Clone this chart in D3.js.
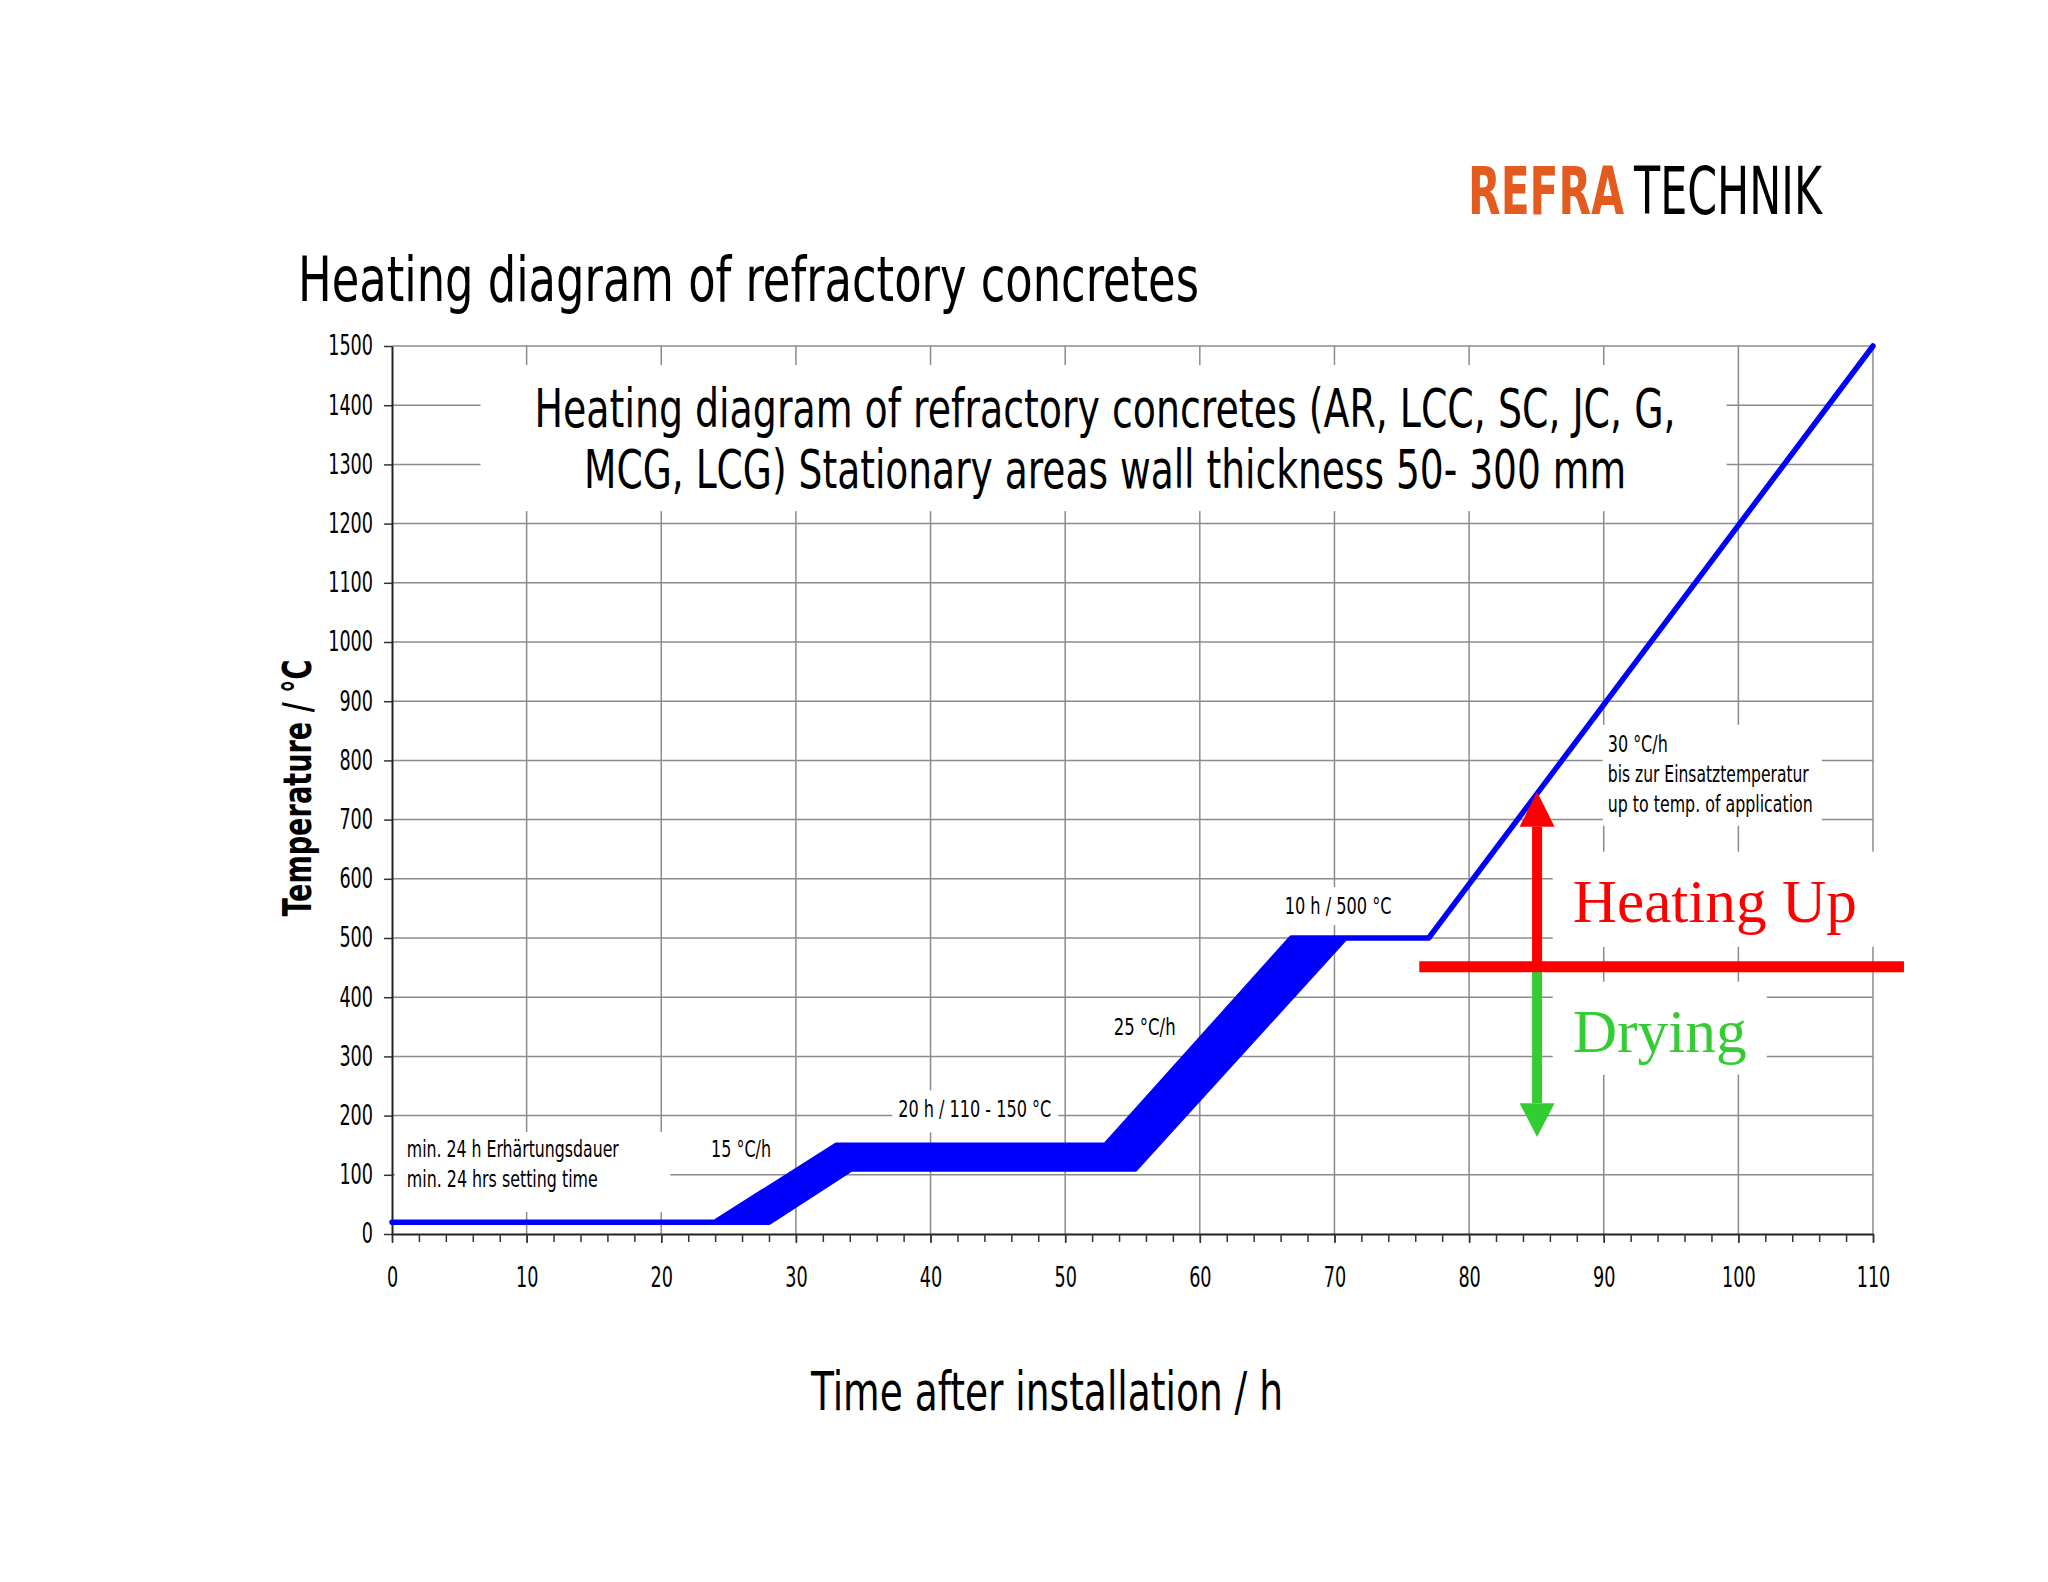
<!DOCTYPE html>
<html>
<head>
<meta charset="utf-8">
<script src="https://cdn.jsdelivr.net/npm/d3@7"></script>
<style>
  body { margin: 0; background: #fff; }
  text { font-family: "Liberation Sans Narrow", "DejaVu Sans Condensed", sans-serif; fill: #000; }
  .serif { font-family: "Liberation Serif", "DejaVu Serif", serif; }
</style>
</head>
<body>
<div id="chart"></div>
<script>
// ticks
var hourTicks = d3.range(0, 111, 10);
var hourMinorTicks = d3.range(0, 111, 2);
var tempTicks = d3.range(0, 1501, 100);

// heating band: fastest (upper) and slowest (lower) schedule
var upperHours = [0, 24, 33, 53, 66.8, 77, 110];
var upperTemps = [20, 20, 150, 150, 500, 500, 1500];
var lowerHours = [0, 28, 34.1, 55.2, 70.8, 77, 110];
var lowerTemps = [20, 20, 110, 110, 500, 500, 1500];

// phase marker (drying / heating up)
var dividerTemp = 451.5, dividerFrom = 76.3, dividerTo = 112.3;
var arrowHour = 85.05;
var heatTipTemp = 747, heatHeadTemp = 688;
var dryTipTemp = 164, dryHeadTemp = 221;

var W = 2048, H = 1582;
var margin = {top: 346, right: 175, bottom: 348, left: 392};
var width = W - margin.left - margin.right,
    height = H - margin.top - margin.bottom;

var x = d3.scaleLinear().domain([0, 110]).range([margin.left, margin.left + width]);
var y = d3.scaleLinear().domain([0, 1500]).range([margin.top + height, margin.top]);

var svg = d3.select("#chart").append("svg")
  .attr("width", W)
  .attr("height", H);
svg.append("rect").attr("width", W).attr("height", H).attr("fill", "#fff");

// grid
svg.append("g").selectAll("line")
  .data(tempTicks.slice(1))
  .enter().append("line")
  .attr("x1", x(0)).attr("x2", x(110))
  .attr("y1", function (d) { return y(d); })
  .attr("y2", function (d) { return y(d); })
  .attr("stroke", "#8c8c8c").attr("stroke-width", 1.5);
svg.append("g").selectAll("line")
  .data(hourTicks.slice(1))
  .enter().append("line")
  .attr("x1", function (d) { return x(d); })
  .attr("x2", function (d) { return x(d); })
  .attr("y1", y(0)).attr("y2", y(1500))
  .attr("stroke", "#8c8c8c").attr("stroke-width", 1.5);

// label helper: white box behind text, pads = [top, right, bottom, left]
function addLabel(lines, h, t, opt) {
  var g = svg.append("g");
  var box = g.append("rect").attr("fill", "#fff");
  var txt = g.append("text")
    .attr("x", x(h)).attr("y", y(t))
    .attr("class", opt.cls || null)
    .style("font-size", opt.size + "px")
    .style("fill", opt.color || "#000")
    .attr("text-anchor", opt.anchor || "start");
  lines.forEach(function (s, i) {
    var ts = txt.append("tspan")
      .attr("x", x(h))
      .attr("dy", i === 0 ? 0 : opt.lh)
      .text(s);
    if (opt.widths && opt.widths[i]) {
      ts.attr("textLength", opt.widths[i]).attr("lengthAdjust", "spacingAndGlyphs");
    }
  });
  var bb = txt.node().getBBox();
  var p = opt.pad || [5, 6, 5, 6];
  box.attr("x", bb.x - p[3]).attr("y", bb.y - p[0])
    .attr("width", bb.width + p[1] + p[3])
    .attr("height", bb.height + p[0] + p[2]);
  return g;
}

// annotations (boxes sit over the grid, under the curve)
addLabel(["Heating diagram of refractory concretes (AR, LCC, SC, JC, G,",
          "MCG, LCG) Stationary areas wall thickness 50- 300 mm"], 52.96, 1363,
  {size: 54, lh: 61, anchor: "middle", widths: [1141, 1042], pad: [12, 51, 10, 54]});
addLabel(["min. 24 h Erhärtungsdauer", "min. 24 hrs setting time"], 1.1, 130,
  {size: 23, lh: 30, widths: [212, 191], pad: [4, 51, 20, 12]});
addLabel(["15 °C/h"], 23.7, 129.6, {size: 23, widths: [60], pad: [6, 8, 6, 8]});
addLabel(["20 h / 110 - 150 °C"], 37.6, 197, {size: 23, widths: [153], pad: [6, 7, 10, 6]});
addLabel(["25 °C/h"], 53.6, 336, {size: 23, widths: [62], pad: [6, 8, 6, 8]});
addLabel(["10 h / 500 °C"], 66.3, 540.5, {size: 23, widths: [107], pad: [6, 6, 6, 6]});
addLabel(["30 °C/h", "bis zur Einsatztemperatur", "up to temp. of application"], 90.3, 814.7,
  {size: 23, lh: 30, widths: [60, 201, 205], pad: [6, 9, 9, 5]});
addLabel(["Heating Up"], 87.7, 527.5,
  {size: 61, cls: "serif", color: "#ff0000", widths: [284], pad: [16, 28, 12, 20]});
addLabel(["Drying"], 87.7, 308,
  {size: 61, cls: "serif", color: "#33cc33", widths: [174], pad: [16, 20, 10, 20]});

// axes
var xAxis = svg.append("g")
  .attr("transform", "translate(0," + y(0) + ")")
  .call(d3.axisBottom(x).tickValues(hourTicks).tickFormat(d3.format("d"))
    .tickSize(9).tickSizeOuter(0).tickPadding(24));
svg.append("g")
  .attr("transform", "translate(0," + y(0) + ")")
  .call(d3.axisBottom(x).tickValues(hourMinorTicks).tickSize(8).tickSizeOuter(0).tickFormat(""))
  .select(".domain").remove();
var yAxis = svg.append("g")
  .attr("transform", "translate(" + x(0) + ",0)")
  .call(d3.axisLeft(y).tickValues(tempTicks).tickFormat(d3.format("d"))
    .tickSize(8).tickSizeOuter(0).tickPadding(11));

svg.selectAll(".tick line").attr("stroke", "#333").attr("stroke-width", 1.5);
svg.selectAll(".domain").attr("stroke", "#222").attr("stroke-width", 2);
[xAxis, yAxis].forEach(function (ax) {
  ax.selectAll("text")
    .style("font-family", "'Liberation Sans Narrow', 'DejaVu Sans Condensed', sans-serif")
    .style("font-size", "28px")
    .attr("fill", "#000")
    .attr("textLength", function (d) { return String(d).length * 11.2; })
    .attr("lengthAdjust", "spacingAndGlyphs");
});

// heating band
var bandPts = upperHours.map(function (h, i) { return [h, upperTemps[i]]; })
  .concat(lowerHours.map(function (h, i) { return [h, lowerTemps[i]]; }).reverse());
var bandLine = d3.line()
  .x(function (d) { return x(d[0]); })
  .y(function (d) { return y(d[1]); });
svg.append("path")
  .attr("d", bandLine(bandPts) + "Z")
  .attr("fill", "#0000ff")
  .attr("stroke", "#0000ff")
  .attr("stroke-width", 5.5)
  .attr("stroke-linejoin", "round");

// drying / heating up arrows
var shaftW = 10, headW = 35;
function arrow(fromTemp, headTemp, tipTemp, color) {
  svg.append("rect")
    .attr("x", x(arrowHour) - shaftW / 2)
    .attr("y", Math.min(y(fromTemp), y(headTemp)))
    .attr("width", shaftW)
    .attr("height", Math.abs(y(fromTemp) - y(headTemp)))
    .attr("fill", color);
  svg.append("path")
    .attr("d", d3.line()([[x(arrowHour) - headW / 2, y(headTemp)],
                          [x(arrowHour) + headW / 2, y(headTemp)],
                          [x(arrowHour), y(tipTemp)]]) + "Z")
    .attr("fill", color);
}
arrow(dividerTemp, dryHeadTemp, dryTipTemp, "#33cc33");
arrow(dividerTemp, heatHeadTemp, heatTipTemp, "#ff0000");
svg.append("line")
  .attr("x1", x(dividerFrom)).attr("x2", x(dividerTo))
  .attr("y1", y(dividerTemp)).attr("y2", y(dividerTemp))
  .attr("stroke", "#ff0000").attr("stroke-width", 11);

// titles
svg.append("text")
  .attr("x", 298).attr("y", 301)
  .style("font-size", "63px")
  .attr("textLength", 901).attr("lengthAdjust", "spacingAndGlyphs")
  .text("Heating diagram of refractory concretes");
svg.append("text")
  .attr("x", (811 + 1283) / 2).attr("y", 1410)
  .attr("text-anchor", "middle")
  .style("font-size", "53px")
  .attr("textLength", 472).attr("lengthAdjust", "spacingAndGlyphs")
  .text("Time after installation / h");
svg.append("text")
  .attr("transform", "translate(311,788) rotate(-90)")
  .attr("text-anchor", "middle")
  .style("font-size", "39px")
  .style("font-weight", "bold")
  .attr("textLength", 257).attr("lengthAdjust", "spacingAndGlyphs")
  .text("Temperature / °C");

// logo: squeeze each word to its width with a scale, so the boxes stay tight
function squeezed(str, left, base, w, bold, color) {
  var t = svg.append("text")
    .style("font-size", "66px")
    .style("font-weight", bold ? "bold" : "normal")
    .style("fill", color)
    .text(str);
  var sx = w / t.node().getComputedTextLength();
  t.attr("transform", "translate(" + left + "," + base + ") scale(" + sx + ",1)");
}
squeezed("REFRA", 1468, 214, 156, true, "#e35b1f");
squeezed("TECHNIK", 1634, 214, 188, false, "#000");
</script>
</body>
</html>
